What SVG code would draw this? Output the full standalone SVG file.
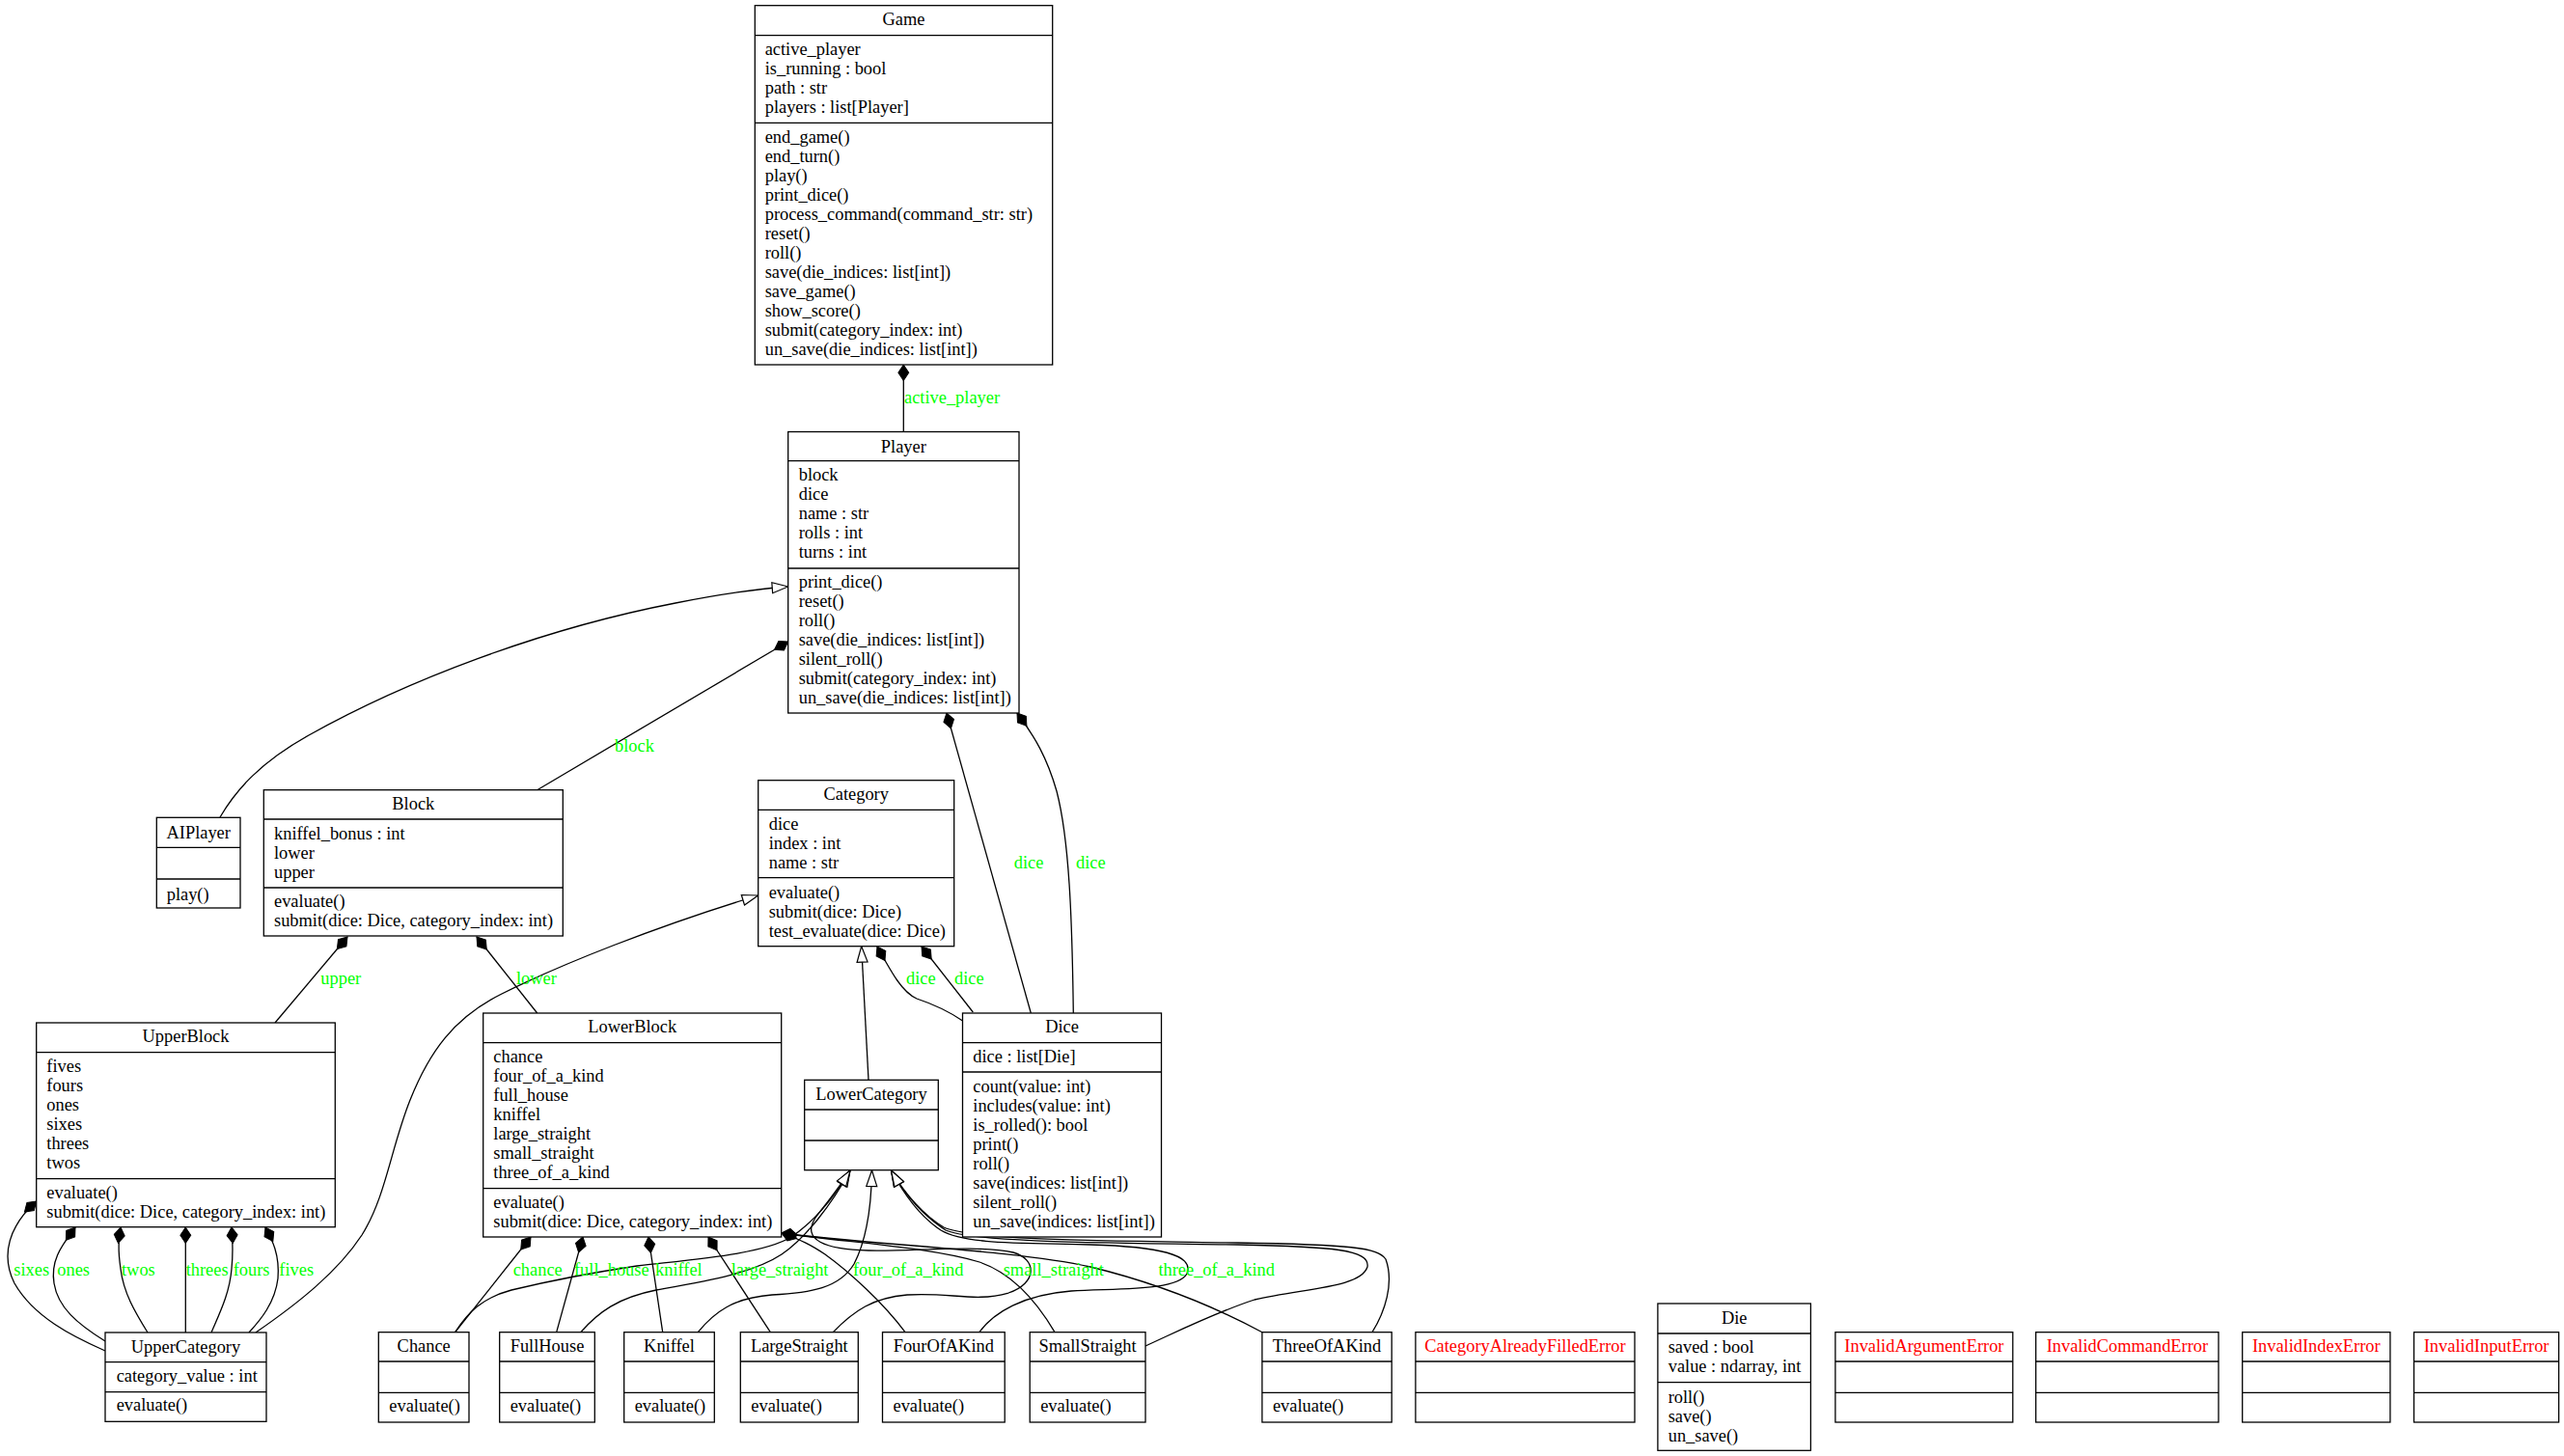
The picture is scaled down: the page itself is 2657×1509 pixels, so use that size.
<svg xmlns="http://www.w3.org/2000/svg" width="2657" height="1509" viewBox="0 0 2657 1509">
<style>
.box{fill:#fff;stroke:#000;stroke-width:1.3}
.sep{stroke:#000;stroke-width:1.3}
text{font-family:"Liberation Serif","Times New Roman",serif;font-size:18.4px;fill:#000}
.c{text-anchor:middle}
.r{fill:#f00}
.g{fill:#0f0}
.e{fill:none;stroke:#000;stroke-width:1.3}
.comp{marker-end:url(#diamond)}
.inh{marker-end:url(#tri)}
</style>
<defs>
<marker id="diamond" markerUnits="userSpaceOnUse" markerWidth="18" markerHeight="14" viewBox="0 0 18 14" refX="16.5" refY="6.5" orient="auto" overflow="visible">
<path d="M16.5,6.5 L8.3,1 L0,6.5 L8.3,12 Z" fill="#000" stroke="#000" stroke-width="1"/>
</marker>
<marker id="tri" markerUnits="userSpaceOnUse" markerWidth="18" markerHeight="14" viewBox="0 0 18 14" refX="16.5" refY="6.5" orient="auto" overflow="visible">
<path d="M16.5,6.5 L0,1 L0,12 Z" fill="#fff" stroke="#000" stroke-width="1.2"/>
</marker>
</defs>
<rect x="0" y="0" width="2657" height="1509" fill="#fff"/>

<g id="connectors">
<path class="e comp" d="M936.3,447.5 L936.3,378"/>
<path class="e inh" d="M228,847 C245,818 270,790 320,762 C420,706 560,652 700,625 C750,615 790,610 816.7,608"/>
<path class="e comp" d="M556.7,818.7 L816.7,665"/>
<path class="e comp" d="M1068.3,1050 L981,739"/>
<path class="e comp" d="M1112.3,1050 C1111,950 1108,870 1095,820 C1085,785 1072,763 1054,739"/>
<path class="e comp" d="M997.6,1058 C980,1046 965,1040 950,1035 C935,1028 925,1010 909,981"/>
<path class="e comp" d="M1008.3,1049 L955,981"/>
<path class="e inh" d="M900,1119.3 L892.7,980.7"/>
<path class="e inh" d="M265,1381 C310,1350 350,1318 375,1280 C400,1240 405,1190 425,1140 C445,1090 470,1055 520,1030 C580,1000 680,960 785.7,928"/>
<path class="e comp" d="M285,1060 L360,971"/>
<path class="e comp" d="M556.7,1050 L494,971"/>
<path class="e comp" d="M109,1400 C75,1385 35,1365 15,1330 C0,1300 10,1270 37.7,1245"/>
<path class="e comp" d="M109,1390 C80,1372 60,1355 56,1330 C52,1305 65,1290 78,1272"/>
<path class="e comp" d="M153,1381 C140,1360 128,1340 125,1315 C122,1295 123,1285 125,1272"/>
<path class="e comp" d="M192.3,1381 L192.3,1272"/>
<path class="e comp" d="M219,1381 C228,1360 238,1340 240,1315 C242,1295 241,1285 240,1272"/>
<path class="e comp" d="M258,1381 C270,1368 285,1350 288,1325 C290,1300 282,1285 275,1272"/>
<path class="e comp" d="M471.7,1380.7 L550,1282"/>
<path class="e comp" d="M576.7,1380.7 L604,1282"/>
<path class="e comp" d="M686.7,1380.7 L672,1282"/>
<path class="e comp" d="M798.3,1380.7 L734,1282"/>
<path class="e comp" d="M938,1380.7 C915,1350 880,1318 855,1300 C840,1290 830,1285 810,1278"/>
<path class="e comp" d="M1093,1380.7 C1075,1350 1050,1320 1015,1308 C960,1292 880,1288 810,1278"/>
<path class="e comp" d="M1308,1380.7 C1260,1355 1200,1330 1130,1313 C1050,1295 900,1290 810,1278"/>
<path class="e inh" d="M471.7,1380.7 C485,1360 500,1345 530,1337 C580,1325 620,1318 660,1312 C720,1305 790,1300 820,1282 C845,1265 865,1240 881,1213"/>
<path class="e inh" d="M601.7,1380.7 C620,1360 640,1345 680,1337 C730,1328 780,1320 810,1300 C835,1283 862,1248 881,1213"/>
<path class="e inh" d="M863.3,1380.7 C885,1358 905,1345 940,1342 C985,1339 1010,1350 1045,1340 C1075,1330 1075,1305 1050,1298 C1010,1290 950,1297 900,1296 C855,1295 830,1285 845,1262 C858,1245 870,1230 881,1213"/>
<path class="e inh" d="M723.3,1380.7 C740,1360 760,1345 800,1342 C840,1340 870,1335 885,1310 C898,1285 903,1250 903.5,1213"/>
<path class="e inh" d="M1014.8,1380.7 C1030,1360 1060,1342 1110,1338 C1160,1335 1220,1338 1230,1320 C1238,1300 1200,1292 1130,1290 C1060,1288 1000,1290 975,1275 C955,1262 938,1240 923.5,1213"/>
<path class="e inh" d="M1187,1395 C1220,1380 1260,1360 1300,1347 C1350,1335 1410,1335 1417,1313 C1420,1295 1380,1292 1283,1290 C1150,1288 1010,1288 980,1275 C960,1262 938,1240 923.5,1213"/>
<path class="e inh" d="M1422,1380.7 C1435,1360 1445,1330 1436,1305 C1428,1293 1400,1290 1283,1288 C1150,1286 1010,1286 978,1272 C958,1260 938,1238 923.5,1213"/>
</g>

<g id="edge-labels">
<text class="g" x="937" y="417.5">active_player</text>
<text class="g" x="637" y="778.5">block</text>
<text class="g" x="1050.7" y="899.5">dice</text>
<text class="g" x="1115" y="899.5">dice</text>
<text class="g" x="939" y="1019.8">dice</text>
<text class="g" x="989" y="1019.8">dice</text>
<text class="g" x="332.3" y="1019.8">upper</text>
<text class="g" x="535" y="1019.8">lower</text>
<text class="g" x="14.3" y="1321.5">sixes</text>
<text class="g" x="59.3" y="1321.5">ones</text>
<text class="g" x="126" y="1321.5">twos</text>
<text class="g" x="192.7" y="1321.5">threes</text>
<text class="g" x="241.7" y="1321.5">fours</text>
<text class="g" x="289.3" y="1321.5">fives</text>
<text class="g" x="531.7" y="1321.5">chance</text>
<text class="g" x="595" y="1321.5">full_house</text>
<text class="g" x="679" y="1321.5">kniffel</text>
<text class="g" x="757.7" y="1321.5">large_straight</text>
<text class="g" x="884" y="1321.5">four_of_a_kind</text>
<text class="g" x="1039.7" y="1321.5">small_straight</text>
<text class="g" x="1200.4" y="1321.5">three_of_a_kind</text>
</g>

<g id="Game">
<rect class="box" x="782.3" y="5.7" width="308.4" height="372.3"/>
<line class="sep" x1="782.3" y1="36.7" x2="1090.7" y2="36.7"/>
<line class="sep" x1="782.3" y1="127.3" x2="1090.7" y2="127.3"/>
<text class="c" x="936.5" y="26">Game</text>
<text x="792.7" y="56.5">active_player</text>
<text x="792.7" y="76.5">is_running : bool</text>
<text x="792.7" y="96.5">path : str</text>
<text x="792.7" y="116.5">players : list[Player]</text>
<text x="792.7" y="148">end_game()</text>
<text x="792.7" y="168">end_turn()</text>
<text x="792.7" y="188">play()</text>
<text x="792.7" y="208">print_dice()</text>
<text x="792.7" y="228">process_command(command_str: str)</text>
<text x="792.7" y="248">reset()</text>
<text x="792.7" y="268">roll()</text>
<text x="792.7" y="288">save(die_indices: list[int])</text>
<text x="792.7" y="308">save_game()</text>
<text x="792.7" y="328">show_score()</text>
<text x="792.7" y="348">submit(category_index: int)</text>
<text x="792.7" y="368">un_save(die_indices: list[int])</text>
</g>

<g id="Player">
<rect class="box" x="816.7" y="447.5" width="239.3" height="291.5"/>
<line class="sep" x1="816.7" y1="477.7" x2="1056" y2="477.7"/>
<line class="sep" x1="816.7" y1="589" x2="1056" y2="589"/>
<text class="c" x="936.3" y="468.5">Player</text>
<text x="827.7" y="498">block</text>
<text x="827.7" y="518">dice</text>
<text x="827.7" y="538">name : str</text>
<text x="827.7" y="558">rolls : int</text>
<text x="827.7" y="578">turns : int</text>
<text x="827.7" y="609">print_dice()</text>
<text x="827.7" y="629">reset()</text>
<text x="827.7" y="649">roll()</text>
<text x="827.7" y="669">save(die_indices: list[int])</text>
<text x="827.7" y="689">silent_roll()</text>
<text x="827.7" y="709">submit(category_index: int)</text>
<text x="827.7" y="729">un_save(die_indices: list[int])</text>
</g>

<g id="AIPlayer">
<rect class="box" x="162.3" y="847.3" width="86.7" height="93.7"/>
<line class="sep" x1="162.3" y1="878.3" x2="249" y2="878.3"/>
<line class="sep" x1="162.3" y1="911" x2="249" y2="911"/>
<text class="c" x="205.7" y="868.5">AIPlayer</text>
<text x="172.7" y="932.5">play()</text>
</g>

<g id="Block">
<rect class="box" x="273.3" y="818.7" width="310" height="151.3"/>
<line class="sep" x1="273.3" y1="849" x2="583.3" y2="849"/>
<line class="sep" x1="273.3" y1="920" x2="583.3" y2="920"/>
<text class="c" x="428.3" y="839">Block</text>
<text x="284" y="869.5">kniffel_bonus : int</text>
<text x="284" y="889.5">lower</text>
<text x="284" y="909.5">upper</text>
<text x="284" y="939.5">evaluate()</text>
<text x="284" y="959.5">submit(dice: Dice, category_index: int)</text>
</g>

<g id="Category">
<rect class="box" x="785.7" y="808.7" width="203" height="172"/>
<line class="sep" x1="785.7" y1="839.3" x2="988.7" y2="839.3"/>
<line class="sep" x1="785.7" y1="909.7" x2="988.7" y2="909.7"/>
<text class="c" x="887.2" y="829">Category</text>
<text x="796.7" y="859.5">dice</text>
<text x="796.7" y="879.5">index : int</text>
<text x="796.7" y="899.5">name : str</text>
<text x="796.7" y="930.5">evaluate()</text>
<text x="796.7" y="950.5">submit(dice: Dice)</text>
<text x="796.7" y="970.5">test_evaluate(dice: Dice)</text>
</g>

<g id="Dice">
<rect class="box" x="997.5" y="1050" width="206" height="232"/>
<line class="sep" x1="997.5" y1="1080.7" x2="1203.5" y2="1080.7"/>
<line class="sep" x1="997.5" y1="1111" x2="1203.5" y2="1111"/>
<text class="c" x="1100.5" y="1069.5">Dice</text>
<text x="1008.3" y="1101">dice : list[Die]</text>
<text x="1008.3" y="1132">count(value: int)</text>
<text x="1008.3" y="1152">includes(value: int)</text>
<text x="1008.3" y="1172">is_rolled(): bool</text>
<text x="1008.3" y="1192">print()</text>
<text x="1008.3" y="1212">roll()</text>
<text x="1008.3" y="1232">save(indices: list[int])</text>
<text x="1008.3" y="1252">silent_roll()</text>
<text x="1008.3" y="1272">un_save(indices: list[int])</text>
</g>

<g id="UpperBlock">
<rect class="box" x="37.7" y="1060" width="309.6" height="211.7"/>
<line class="sep" x1="37.7" y1="1090.7" x2="347.3" y2="1090.7"/>
<line class="sep" x1="37.7" y1="1221.7" x2="347.3" y2="1221.7"/>
<text class="c" x="192.5" y="1079.5">UpperBlock</text>
<text x="48.3" y="1110.5">fives</text>
<text x="48.3" y="1130.5">fours</text>
<text x="48.3" y="1150.5">ones</text>
<text x="48.3" y="1170.5">sixes</text>
<text x="48.3" y="1190.5">threes</text>
<text x="48.3" y="1210.5">twos</text>
<text x="48.3" y="1241.5">evaluate()</text>
<text x="48.3" y="1261.5">submit(dice: Dice, category_index: int)</text>
</g>

<g id="UpperCategory">
<rect class="box" x="109" y="1381" width="167" height="92.3"/>
<line class="sep" x1="109" y1="1411.7" x2="276" y2="1411.7"/>
<line class="sep" x1="109" y1="1442.7" x2="276" y2="1442.7"/>
<text class="c" x="192.5" y="1401.5">UpperCategory</text>
<text x="120.7" y="1431.5">category_value : int</text>
<text x="120.7" y="1462">evaluate()</text>
</g>

<g id="LowerBlock">
<rect class="box" x="500.7" y="1050" width="309" height="232"/>
<line class="sep" x1="500.7" y1="1080.7" x2="809.7" y2="1080.7"/>
<line class="sep" x1="500.7" y1="1231.7" x2="809.7" y2="1231.7"/>
<text class="c" x="655.2" y="1069.5">LowerBlock</text>
<text x="511.3" y="1100.5">chance</text>
<text x="511.3" y="1120.5">four_of_a_kind</text>
<text x="511.3" y="1140.5">full_house</text>
<text x="511.3" y="1160.5">kniffel</text>
<text x="511.3" y="1180.5">large_straight</text>
<text x="511.3" y="1200.5">small_straight</text>
<text x="511.3" y="1220.5">three_of_a_kind</text>
<text x="511.3" y="1252">evaluate()</text>
<text x="511.3" y="1272">submit(dice: Dice, category_index: int)</text>
</g>

<g id="LowerCategory">
<rect class="box" x="833.7" y="1119.3" width="138.6" height="93.4"/>
<line class="sep" x1="833.7" y1="1150" x2="972.3" y2="1150"/>
<line class="sep" x1="833.7" y1="1182" x2="972.3" y2="1182"/>
<text class="c" x="903" y="1140">LowerCategory</text>
</g>

<g id="Chance">
<rect class="box" x="392.3" y="1380.7" width="93.7" height="93.3"/>
<line class="sep" x1="392.3" y1="1411" x2="486" y2="1411"/>
<line class="sep" x1="392.3" y1="1443.3" x2="486" y2="1443.3"/>
<text class="c" x="439.2" y="1400.5">Chance</text>
<text x="403.3" y="1463">evaluate()</text>
</g>

<g id="FullHouse">
<rect class="box" x="517.7" y="1380.7" width="98.6" height="93.3"/>
<line class="sep" x1="517.7" y1="1411" x2="616.3" y2="1411"/>
<line class="sep" x1="517.7" y1="1443.3" x2="616.3" y2="1443.3"/>
<text class="c" x="567" y="1400.5">FullHouse</text>
<text x="528.7" y="1463">evaluate()</text>
</g>

<g id="Kniffel">
<rect class="box" x="646.7" y="1380.7" width="93.6" height="93.3"/>
<line class="sep" x1="646.7" y1="1411" x2="740.3" y2="1411"/>
<line class="sep" x1="646.7" y1="1443.3" x2="740.3" y2="1443.3"/>
<text class="c" x="693.5" y="1400.5">Kniffel</text>
<text x="657.7" y="1463">evaluate()</text>
</g>

<g id="LargeStraight">
<rect class="box" x="767.3" y="1380.7" width="122" height="93.3"/>
<line class="sep" x1="767.3" y1="1411" x2="889.3" y2="1411"/>
<line class="sep" x1="767.3" y1="1443.3" x2="889.3" y2="1443.3"/>
<text class="c" x="828.3" y="1400.5">LargeStraight</text>
<text x="778.3" y="1463">evaluate()</text>
</g>

<g id="FourOfAKind">
<rect class="box" x="914.5" y="1380.7" width="126.7" height="93.3"/>
<line class="sep" x1="914.5" y1="1411" x2="1041.2" y2="1411"/>
<line class="sep" x1="914.5" y1="1443.3" x2="1041.2" y2="1443.3"/>
<text class="c" x="977.8" y="1400.5">FourOfAKind</text>
<text x="925.5" y="1463">evaluate()</text>
</g>

<g id="SmallStraight">
<rect class="box" x="1067.2" y="1380.7" width="119.8" height="93.3"/>
<line class="sep" x1="1067.2" y1="1411" x2="1187" y2="1411"/>
<line class="sep" x1="1067.2" y1="1443.3" x2="1187" y2="1443.3"/>
<text class="c" x="1127.1" y="1400.5">SmallStraight</text>
<text x="1078.2" y="1463">evaluate()</text>
</g>

<g id="ThreeOfAKind">
<rect class="box" x="1307.9" y="1380.7" width="134.3" height="93.3"/>
<line class="sep" x1="1307.9" y1="1411" x2="1442.2" y2="1411"/>
<line class="sep" x1="1307.9" y1="1443.3" x2="1442.2" y2="1443.3"/>
<text class="c" x="1375" y="1400.5">ThreeOfAKind</text>
<text x="1318.9" y="1463">evaluate()</text>
</g>

<g id="CategoryAlreadyFilledError">
<rect class="box" x="1466.9" y="1380.7" width="227.1" height="93.3"/>
<line class="sep" x1="1466.9" y1="1411" x2="1694" y2="1411"/>
<line class="sep" x1="1466.9" y1="1443.3" x2="1694" y2="1443.3"/>
<text class="c r" x="1580.5" y="1400.5">CategoryAlreadyFilledError</text>
</g>

<g id="Die">
<rect class="box" x="1717.9" y="1351" width="158.5" height="152.3"/>
<line class="sep" x1="1717.9" y1="1382" x2="1876.4" y2="1382"/>
<line class="sep" x1="1717.9" y1="1432.7" x2="1876.4" y2="1432.7"/>
<text class="c" x="1797.2" y="1372">Die</text>
<text x="1728.7" y="1402">saved : bool</text>
<text x="1728.7" y="1422">value : ndarray, int</text>
<text x="1728.7" y="1454">roll()</text>
<text x="1728.7" y="1474">save()</text>
<text x="1728.7" y="1494">un_save()</text>
</g>

<g id="InvalidArgumentError">
<rect class="box" x="1901.9" y="1380.7" width="183.9" height="93.3"/>
<line class="sep" x1="1901.9" y1="1411" x2="2085.8" y2="1411"/>
<line class="sep" x1="1901.9" y1="1443.3" x2="2085.8" y2="1443.3"/>
<text class="c r" x="1993.9" y="1400.5">InvalidArgumentError</text>
</g>

<g id="InvalidCommandError">
<rect class="box" x="2109.7" y="1380.7" width="189.3" height="93.3"/>
<line class="sep" x1="2109.7" y1="1411" x2="2299" y2="1411"/>
<line class="sep" x1="2109.7" y1="1443.3" x2="2299" y2="1443.3"/>
<text class="c r" x="2204.4" y="1400.5">InvalidCommandError</text>
</g>

<g id="InvalidIndexError">
<rect class="box" x="2323.7" y="1380.7" width="153.2" height="93.3"/>
<line class="sep" x1="2323.7" y1="1411" x2="2476.9" y2="1411"/>
<line class="sep" x1="2323.7" y1="1443.3" x2="2476.9" y2="1443.3"/>
<text class="c r" x="2400.3" y="1400.5">InvalidIndexError</text>
</g>

<g id="InvalidInputError">
<rect class="box" x="2501.5" y="1380.7" width="150.1" height="93.3"/>
<line class="sep" x1="2501.5" y1="1411" x2="2651.6" y2="1411"/>
<line class="sep" x1="2501.5" y1="1443.3" x2="2651.6" y2="1443.3"/>
<text class="c r" x="2576.6" y="1400.5">InvalidInputError</text>
</g>
</svg>
